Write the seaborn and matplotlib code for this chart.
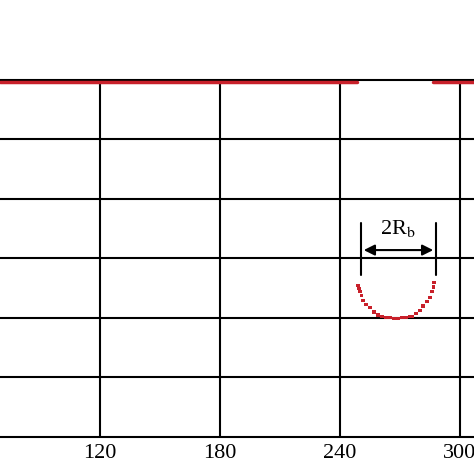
import matplotlib
matplotlib.use("Agg")
import matplotlib.pyplot as plt
import seaborn as sns

sns.set_style("white")
plt.rcParams['font.family'] = ['Liberation Serif', 'DejaVu Serif']
plt.rcParams['mathtext.fontset'] = 'stix'

# top (flat) data segments, y = 6
top_left_x = [70, 248.5]
top_right_x = [286.5, 307]
top_y = [5.97, 5.97]
# dip (arc) points
arc_x = [249, 249.5, 250, 250.8, 251.5, 253, 255, 257, 259, 261, 263, 265, 267, 269, 271,
         273, 275, 276, 278, 280, 281.5, 283.5, 285, 286, 286.6, 287]
arc_y = [2.55, 2.5, 2.44, 2.37, 2.30, 2.23, 2.17, 2.10, 2.05, 2.03, 2.01, 2.0, 1.99, 1.99, 2.0,
         2.0, 2.02, 2.03, 2.08, 2.13, 2.2, 2.27, 2.35, 2.44, 2.52, 2.6]
xticks = [120, 180, 240, 300]
yticks = [0, 1, 2, 3, 4, 5, 6]

fig = plt.figure(figsize=(4.74, 4.74), dpi=100)
ax = fig.add_axes([0, 0.078, 1, 0.922])
ax.set_xlim(70, 307)
ax.set_ylim(0, 7.34)
for y in yticks[1:]:
    ax.axhline(y, color='black', lw=1.5, zorder=1)
ax.vlines(xticks, 0, 6, color='black', lw=1.5, zorder=1)

sns.lineplot(x=top_left_x, y=top_y, ax=ax, color='#c8202a', lw=2.5, zorder=3)
sns.lineplot(x=top_right_x, y=top_y, ax=ax, color='#c8202a', lw=2.5, zorder=3)
sns.scatterplot(x=arc_x, y=arc_y, ax=ax, color='#c8202a', s=5, marker='s',
                edgecolor='none', zorder=3)

# annotation
ax.plot([250.5, 250.5], [2.72, 3.6], color='black', lw=1.5)
ax.plot([288, 288], [2.72, 3.6], color='black', lw=1.5)
ax.annotate('', xy=(250.5, 3.14), xytext=(288, 3.14),
            arrowprops=dict(arrowstyle='<|-|>', color='black', lw=1.5, mutation_scale=16))
ax.text(269, 3.5, r'2R$_{\mathrm{b}}$', ha='center', va='center', fontsize=16, color='black')

for s in ['left', 'right', 'top']:
    ax.spines[s].set_visible(False)
ax.spines['bottom'].set_linewidth(1.5)
ax.spines['bottom'].set_color('black')
ax.set_xticks(xticks)
ax.set_xticklabels([str(v) for v in xticks], fontsize=16, color='black')
ax.set_yticks([])
ax.tick_params(axis='x', length=0, pad=5)
fig.savefig('out.png', dpi=100)
